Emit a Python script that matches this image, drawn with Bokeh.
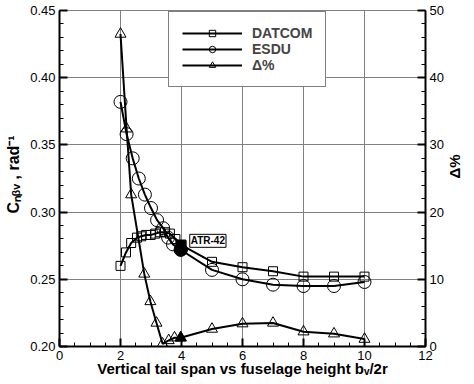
import math
from bokeh.plotting import figure
from bokeh.models import (Label, Legend, LegendItem, LinearAxis, Range1d, Title,
                          SingleIntervalTicker, NumeralTickFormatter)
from bokeh.embed import file_html
from bokeh.resources import INLINE

# ---- data ----
datcom_x = [2.0, 2.18, 2.35, 2.54, 2.68, 2.84, 2.99, 3.14, 3.3, 3.46, 3.62, 3.8, 4.0, 5, 6, 7, 8, 9, 10]
datcom_c = [0.260, 0.270, 0.277, 0.281, 0.282, 0.283, 0.283, 0.284, 0.285, 0.285, 0.284, 0.280, 0.2755,
            0.263, 0.259, 0.256, 0.252, 0.252, 0.252]

esdu_x = [2.0, 2.2, 2.4, 2.6, 2.8, 3.0, 3.2, 3.4, 3.56, 3.72, 3.97, 5, 6, 7, 8, 9, 10]
esdu_c = [0.382, 0.358, 0.340, 0.325, 0.313, 0.303, 0.294, 0.288, 0.281, 0.276, 0.272,
          0.257, 0.250, 0.246, 0.245, 0.245, 0.248]

delta_x = [2.0, 2.2, 2.35, 2.78, 2.98, 3.18, 3.38, 3.58, 3.77, 3.97, 5, 6, 7, 8, 9, 10]
delta_pct = [46.5, 32.4, 22.6, 10.8, 6.7, 3.5, 0.4, 0.9, 1.3, 1.3, 2.6, 3.4, 3.5, 2.2, 1.9, 1.1]

atr_x = [3.98]
atr_datcom = [0.2755]
atr_esdu = [0.272]
atr_delta = [1.3]

x_ticks_interval = 2
y_ticks_interval = 0.05
pct_ticks_interval = 10

FONT = "Liberation Sans"
GRID = "#808080"

p = figure(width=474, height=384, x_range=Range1d(0, 12), y_range=Range1d(0.2, 0.45),
           output_backend="svg", toolbar_location=None,
           min_border_left=58, min_border_right=44, min_border_top=10, min_border_bottom=38)
p.extra_y_ranges = {"pct": Range1d(0, 50)}

right_axis = LinearAxis(y_range_name="pct",
                        ticker=SingleIntervalTicker(interval=pct_ticks_interval, num_minor_ticks=5))
p.add_layout(right_axis, "right")

xax = p.below[0]
yax = p.left[0]
xax.ticker = SingleIntervalTicker(interval=x_ticks_interval, num_minor_ticks=4)
yax.ticker = SingleIntervalTicker(interval=y_ticks_interval, num_minor_ticks=5)
yax.formatter = NumeralTickFormatter(format="0.00")

for ax in (xax, yax, right_axis):
    ax.axis_line_width = 2
    ax.axis_line_color = "black"
    ax.major_tick_in = 8
    ax.major_tick_out = 0
    ax.minor_tick_in = 4
    ax.minor_tick_out = 0
    ax.major_tick_line_width = 2
    ax.major_tick_line_color = "black"
    ax.minor_tick_line_color = "black"
    ax.major_label_text_font = FONT
    ax.major_label_text_font_size = "13px"
    ax.major_label_text_color = "black"
    ax.major_label_standoff = 4

xax.axis_label = "Vertical tail span vs fuselage height b\u1d65/2r"
xax.axis_label_text_font = FONT
xax.axis_label_text_font_style = "bold"
xax.axis_label_text_font_size = "15px"
xax.axis_label_text_color = "black"
xax.axis_label_standoff = -3

right_axis.axis_label = "\u0394%"
right_axis.axis_label_text_font = FONT
right_axis.axis_label_text_font_style = "bold"
right_axis.axis_label_text_font_size = "15px"
right_axis.axis_label_text_color = "black"
right_axis.axis_label_standoff = 8
if "axis_label_orientation" in right_axis.properties():
    right_axis.axis_label_orientation = math.pi / 2

p.add_layout(Title(text="C\u2099\u1d66\u1d65 , rad\u207b\u00b9", align="left", offset=133,
                   vertical_align="top",
                   text_font=FONT, text_font_style="bold", text_font_size="16px",
                   text_color="black", standoff=8), "left")

p.xgrid.grid_line_color = GRID
p.ygrid.grid_line_color = GRID
p.grid.grid_line_width = 1
p.outline_line_color = GRID
p.outline_line_width = 1
p.background_fill_color = "white"

# ---- series ----
l1 = p.line(datcom_x, datcom_c, line_color="black", line_width=2)
s1 = p.scatter(datcom_x, datcom_c, marker="square", size=9, fill_color=None,
               line_color="black", line_width=1)
l2 = p.line(esdu_x, esdu_c, line_color="black", line_width=2)
s2 = p.scatter(esdu_x, esdu_c, marker="circle", size=13, fill_color=None,
               line_color="black", line_width=1)
l3 = p.line(delta_x, delta_pct, line_color="black", line_width=2, y_range_name="pct")
s3 = p.scatter(delta_x, delta_pct, marker="triangle", size=11, fill_color=None,
               line_color="black", line_width=1, y_range_name="pct")

# ATR-42 (filled)
p.scatter(atr_x, atr_datcom, marker="square", size=10, fill_color="black", line_color="black")
p.scatter(atr_x, atr_esdu, marker="circle", size=13, fill_color="black", line_color="black")
p.scatter(atr_x, atr_delta, marker="triangle", size=11, fill_color="black", line_color="black",
          y_range_name="pct")

p.add_layout(Label(x=4.27, y=0.2738, text="ATR-42", text_font=FONT, text_font_style="bold",
                   text_font_size="10px", text_color="black", border_line_color="black",
                   border_line_width=1, background_fill_color="white", padding=1))

legend = Legend(items=[LegendItem(label="DATCOM", renderers=[l1, s1]),
                       LegendItem(label="ESDU", renderers=[l2, s2]),
                       LegendItem(label="\u0394%", renderers=[l3, s3])],
                location=(109, 259), border_line_color="black", border_line_width=1,
                label_text_font=FONT, label_text_font_style="bold", label_text_font_size="14px",
                glyph_width=60, glyph_height=16, label_height=16, label_width=57, spacing=0,
                padding=13, label_standoff=10, margin=0,
                background_fill_color="white", background_fill_alpha=1)
p.add_layout(legend)

open("out.html", "w").write(file_html(p, INLINE))
